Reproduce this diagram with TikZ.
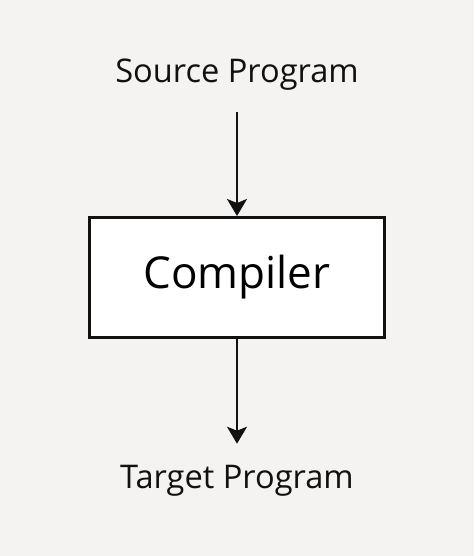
\documentclass[tikz,border=0pt]{standalone}
\usepackage{fontspec}
\setmainfont{Open Sans}
\usetikzlibrary{arrows.meta, positioning}
\definecolor{bggray}{HTML}{F4F3F1}
\definecolor{inkblack}{HTML}{111111}

\begin{document}
\begin{tikzpicture}[x=1pt, y=1pt]

\tikzstyle{block} = [rectangle, draw=inkblack, fill=white, line width=3pt, minimum width=295pt, minimum height=120pt, font=\fontsize{44}{52}\selectfont]
\tikzstyle{label} = [inner sep=0pt, outer ysep=21pt, text=inkblack, font=\fontsize{32.6}{38}\selectfont]
\tikzstyle{flow} = [-{Stealth[length=17pt, width=20pt, inset=4pt]}, line width=2pt, draw=inkblack]

% Background
\fill[bggray] (0,0) rectangle (474,-556);
\useasboundingbox (0,0) rectangle (474,-556);

% Nodes
\node[block] (comp) at (237,-277.5) {Compiler};
\node[label, anchor=base] (src) at (237,-83) {Source Program};
\node[label, anchor=base] (tgt) at (237,-488) {Target Program};

% Connections
\draw[flow] (src) -- (comp);
\draw[flow] (comp) -- (tgt);

\end{tikzpicture}
\end{document}
